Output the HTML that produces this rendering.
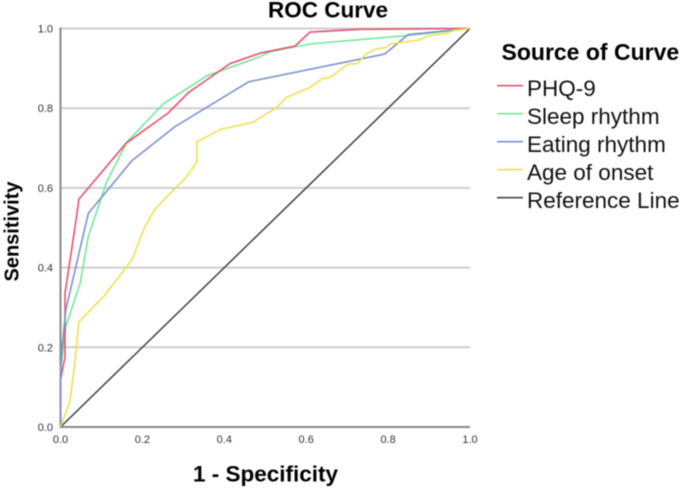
<!DOCTYPE html>
<html>
<head>
<meta charset="utf-8">
<style>
html,body{margin:0;padding:0;background:#fff;width:685px;height:488px;overflow:hidden}
svg{display:block;filter:blur(0.4px)}
text{font-family:"Liberation Sans",sans-serif}
</style>
</head>
<body>
<svg id="chart" width="685" height="488" viewBox="0 0 685 488" xmlns="http://www.w3.org/2000/svg">
<text x="328" y="17.5" text-anchor="middle" font-size="22.5" font-weight="bold" fill="#000">ROC Curve</text>
<text x="265.5" y="481.5" text-anchor="middle" font-size="22.5" font-weight="bold" fill="#000">1 - Specificity</text>
<text transform="translate(18.5,231.5) rotate(-90)" text-anchor="middle" font-size="20" font-weight="bold" fill="#000">Sensitivity</text>
<text x="501.5" y="60" font-size="23" font-weight="bold" fill="#000">Source of Curve</text>
</svg>
<script>
const tickLabels = ["0.0","0.2","0.4","0.6","0.8","1.0"];
const tickValues = [0,0.2,0.4,0.6,0.8,1];
const seriesNames = ["PHQ-9","Sleep rhythm","Eating rhythm","Age of onset","Reference Line"];
const phqX = [0,0,0.011,0.011,0.022,0.038,0.045,0.16,0.263,0.312,0.357,0.414,0.487,0.573,0.609,0.731,1];
const phqY = [0,0.118,0.176,0.336,0.41,0.52,0.572,0.712,0.788,0.839,0.871,0.912,0.938,0.956,0.991,0.998,1];
const sleepX = [0,0,0.003,0.013,0.048,0.068,0.113,0.163,0.251,0.357,0.487,0.512,0.609,0.853,1];
const sleepY = [0,0.15,0.168,0.252,0.361,0.478,0.616,0.716,0.811,0.881,0.929,0.942,0.961,0.983,1];
const eatingX = [0,0,0.003,0.013,0.068,0.174,0.28,0.459,0.487,0.792,0.849,1];
const eatingY = [0,0.12,0.19,0.294,0.536,0.668,0.754,0.866,0.872,0.936,0.985,1];
const ageX = [0,0.023,0.035,0.045,0.105,0.174,0.206,0.231,0.284,0.308,0.333,0.333,0.392,0.471,0.528,0.552,0.609,0.622,0.642,0.658,0.703,0.725,0.748,0.772,0.795,0.805,0.874,0.898,0.943,0.959,1];
const ageY = [0,0.064,0.16,0.264,0.327,0.419,0.503,0.547,0.603,0.627,0.666,0.716,0.747,0.765,0.802,0.827,0.852,0.862,0.875,0.877,0.911,0.912,0.938,0.949,0.952,0.961,0.971,0.982,0.988,0.995,1];
const referenceX = [0,1];
const referenceY = [0,1];

const NS = "http://www.w3.org/2000/svg";
const svg = document.getElementById("chart");
const xScale = v => 60.5 + v * 409.5;
const yScale = v => 427 - v * 398.5;

function make(tag, attrs, parent) {
  const el = document.createElementNS(NS, tag);
  for (const k in attrs) el.setAttribute(k, attrs[k]);
  (parent || svg).appendChild(el);
  return el;
}

tickValues.forEach(function (v, i) {
  if (v > 0) {
    const g = make("line", {x1: xScale(0), x2: xScale(1), y1: yScale(v), y2: yScale(v), stroke: "#cfcfcf", "stroke-width": 2});
    
    
  }
  const yl = make("text", {x: 53, y: yScale(v) + 4, "text-anchor": "end", "font-size": 11, fill: "#333"});
  yl.textContent = tickLabels[i];
  
  
  const xl = make("text", {x: xScale(v), y: 443, "text-anchor": "middle", "font-size": 11, fill: "#333"});
  xl.textContent = tickLabels[i];
  
  
});

const yAxis = make("line", {x1: xScale(0), x2: xScale(0), y1: yScale(1) - 1, y2: yScale(0) + 1, stroke: "#8a8a8a", "stroke-width": 2});


const xAxis = make("line", {x1: xScale(0), x2: xScale(1), y1: yScale(0), y2: yScale(0), stroke: "#8a8a8a", "stroke-width": 2});



function drawLine(xs, ys, color, width) {
  const pts = xs.map((x, i) => xScale(x).toFixed(1) + "," + yScale(ys[i]).toFixed(1)).join(" ");
  return make("polyline", {points: pts, fill: "none", stroke: color, "stroke-width": width, "stroke-linejoin": "round"});
}

const refLine = drawLine(referenceX, referenceY, "#3f3f3f", 1.5);


const sleepLine = drawLine(sleepX, sleepY, "#72e89a", 1.6);


const phqLine = drawLine(phqX, phqY, "#e8506f", 1.6);


const eatingLine = drawLine(eatingX, eatingY, "#7b90cf", 1.6);


const ageLine = drawLine(ageX, ageY, "#f0e050", 1.6);



const legendColors = ["#e8506f","#72e89a","#7b90cf","#f0e050","#444444"];
seriesNames.forEach(function (name, i) {
  const ly = 85.7 + i * 28;
  const sw = make("line", {x1: 497, x2: 523, y1: ly, y2: ly, stroke: legendColors[i], "stroke-width": 1.7});
  
  
  const t = make("text", {x: 527, y: ly + 10.5, "font-size": 22.5, fill: "#111"});
  t.textContent = name;
  
  
});
</script>
</body>
</html>
